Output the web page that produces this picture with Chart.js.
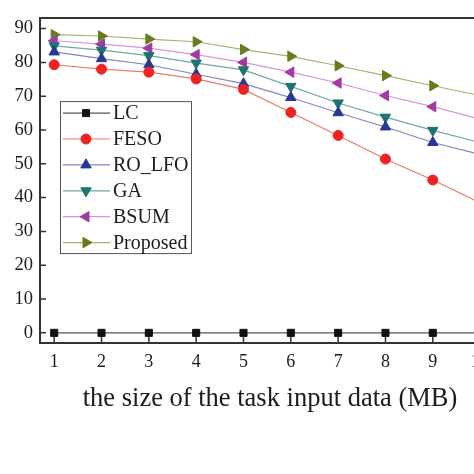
<!DOCTYPE html>
<html>
<head>
<meta charset="utf-8">
<script src="https://cdn.jsdelivr.net/npm/chart.js@4.4.0/dist/chart.umd.min.js"></script>
<style>
  html, body { margin: 0; padding: 0; background: #fff; overflow: hidden; }
  #wrap { width: 520px; height: 474px; }
</style>
</head>
<body>
<div id="wrap"><canvas id="chart" width="520" height="474"></canvas></div>
<script>
// task input size (MB) on the x axis
var sizes = [1, 2, 3, 4, 5, 6, 7, 8, 9, 10];
var lcValues = [0, 0, 0, 0, 0, 0, 0, 0, 0, 0];
var fesoValues = [79.3, 78.0, 77.1, 75.1, 72.0, 65.2, 58.4, 51.4, 45.2, 38.5];
var roLfoValues = [83.1, 81.1, 79.3, 76.5, 73.7, 69.6, 65.1, 60.9, 56.3, 52.8];
var gaValues = [84.9, 83.6, 82.0, 79.8, 77.8, 72.9, 68.0, 63.8, 59.9, 56.3];
var bsumValues = [86.4, 85.4, 84.2, 82.3, 80.0, 77.1, 73.9, 70.2, 66.9, 63.2];
var proposedValues = [88.2, 87.8, 86.9, 86.1, 83.8, 81.8, 79.0, 76.1, 73.1, 70.2];
var yTicks = [0, 10, 20, 30, 40, 50, 60, 70, 80, 90];
var xTicks = [1, 2, 3, 4, 5, 6, 7, 8, 9, 10];

var serif = "'Liberation Serif', 'Times New Roman', serif";
var inkColor = '#1c1c1c';

function series(label, values, lineColor, markColor, style, rot, r) {
  return {
    label: label,
    data: values.map(function(v, i) { return { x: sizes[i], y: v }; }),
    borderColor: lineColor,
    backgroundColor: markColor,
    borderWidth: 1.2,
    pointStyle: style,
    rotation: rot,
    pointRadius: r,
    pointBackgroundColor: markColor,
    pointBorderColor: markColor,
    pointBorderWidth: 1,
    tension: 0,
    fill: false
  };
}

// inward tick marks + top frame line
var frameTicks = {
  id: 'frameTicks',
  afterDraw: function(chart) {
    var ctx = chart.ctx, a = chart.chartArea;
    var xs = chart.scales.x, ys = chart.scales.y;
    ctx.save();
    ctx.strokeStyle = '#333';
    ctx.lineWidth = 1.5;
    ctx.beginPath();
    xs.ticks.forEach(function(t) {
      var px = xs.getPixelForValue(t.value);
      ctx.moveTo(px, a.bottom);
      ctx.lineTo(px, a.bottom - 6);
    });
    ys.ticks.forEach(function(t) {
      var py = ys.getPixelForValue(t.value);
      ctx.moveTo(a.left, py);
      ctx.lineTo(a.left + 6, py);
    });
    ctx.stroke();
    ctx.lineWidth = 2;
    ctx.beginPath();
    ctx.moveTo(a.left - 1, a.top);
    ctx.lineTo(a.right, a.top);
    ctx.stroke();
    ctx.restore();
  }
};

// legend box sitting inside the plot
var insideLegend = {
  id: 'insideLegend',
  afterDraw: function(chart) {
    var ctx = chart.ctx, a = chart.chartArea;
    var left = a.left + 20, top = a.top + 83, w = 131, h = 152, rowH = 25.9;
    ctx.save();
    ctx.fillStyle = '#fff';
    ctx.fillRect(left, top, w, h);
    ctx.strokeStyle = '#555';
    ctx.lineWidth = 1;
    ctx.strokeRect(left + 0.5, top + 0.5, w, h);
    chart.data.datasets.forEach(function(ds, i) {
      var y = top + 12 + i * rowH;
      ctx.strokeStyle = ds.borderColor;
      ctx.lineWidth = 1.2;
      ctx.beginPath();
      ctx.moveTo(left + 3, y);
      ctx.lineTo(left + 50, y);
      ctx.stroke();
      ctx.fillStyle = ds.pointBackgroundColor;
      ctx.strokeStyle = ds.pointBorderColor;
      ctx.lineWidth = 1;
      Chart.helpers.drawPoint(ctx, { pointStyle: ds.pointStyle, rotation: ds.rotation, radius: ds.pointRadius, borderWidth: 1 }, left + 26, y);
      ctx.fillStyle = inkColor;
      ctx.font = '20px ' + serif;
      ctx.textBaseline = 'middle';
      ctx.textAlign = 'left';
      ctx.fillText(ds.label, left + 53, y + 1);
    });
    ctx.restore();
  }
};

new Chart(document.getElementById('chart'), {
  type: 'line',
  data: {
    datasets: [
      series('LC', lcValues, '#555555', '#111111', 'rect', 0, 5),
      series('FESO', fesoValues, '#f07a66', '#ee2222', 'circle', 0, 5),
      series('RO_LFO', roLfoValues, '#8088c4', '#2b3596', 'triangle', 0, 6),
      series('GA', gaValues, '#6fa9a9', '#1e7373', 'triangle', 180, 6),
      series('BSUM', bsumValues, '#d896d8', '#a23aa6', 'triangle', -90, 6),
      series('Proposed', proposedValues, '#a9b46c', '#6a7a1e', 'triangle', 90, 6)
    ]
  },
  options: {
    responsive: false,
    animation: false,
    layout: { padding: { top: 5, right: 20, left: 0, bottom: 0 } },
    plugins: {
      legend: { display: false },
      tooltip: { enabled: false }
    },
    scales: {
      x: {
        type: 'linear',
        min: 0.7,
        max: 10.42,
        afterBuildTicks: function(s) { s.ticks = xTicks.map(function(v) { return { value: v }; }); },
        afterFit: function(s) { s.height = 131; },
        grid: { display: false, drawTicks: false },
        border: { display: true, color: '#333', width: 2 },
        ticks: { color: inkColor, font: { family: serif, size: 18 }, padding: 8, maxRotation: 0, autoSkip: false },
        title: {
          display: true,
          text: 'the size of the task input data (MB)',
          color: inkColor,
          font: { family: serif, size: 26.5 },
          padding: { top: 0, bottom: 59 }
        }
      },
      y: {
        min: -3,
        max: 93.1,
        afterBuildTicks: function(s) { s.ticks = yTicks.map(function(v) { return { value: v }; }); },
        afterFit: function(s) { s.width = 40; },
        grid: { display: false, drawTicks: false },
        border: { display: true, color: '#333', width: 2 },
        ticks: { color: inkColor, font: { family: serif, size: 18.5 }, padding: 7 }
      }
    }
  },
  plugins: [frameTicks, insideLegend]
});
</script>
</body>
</html>
